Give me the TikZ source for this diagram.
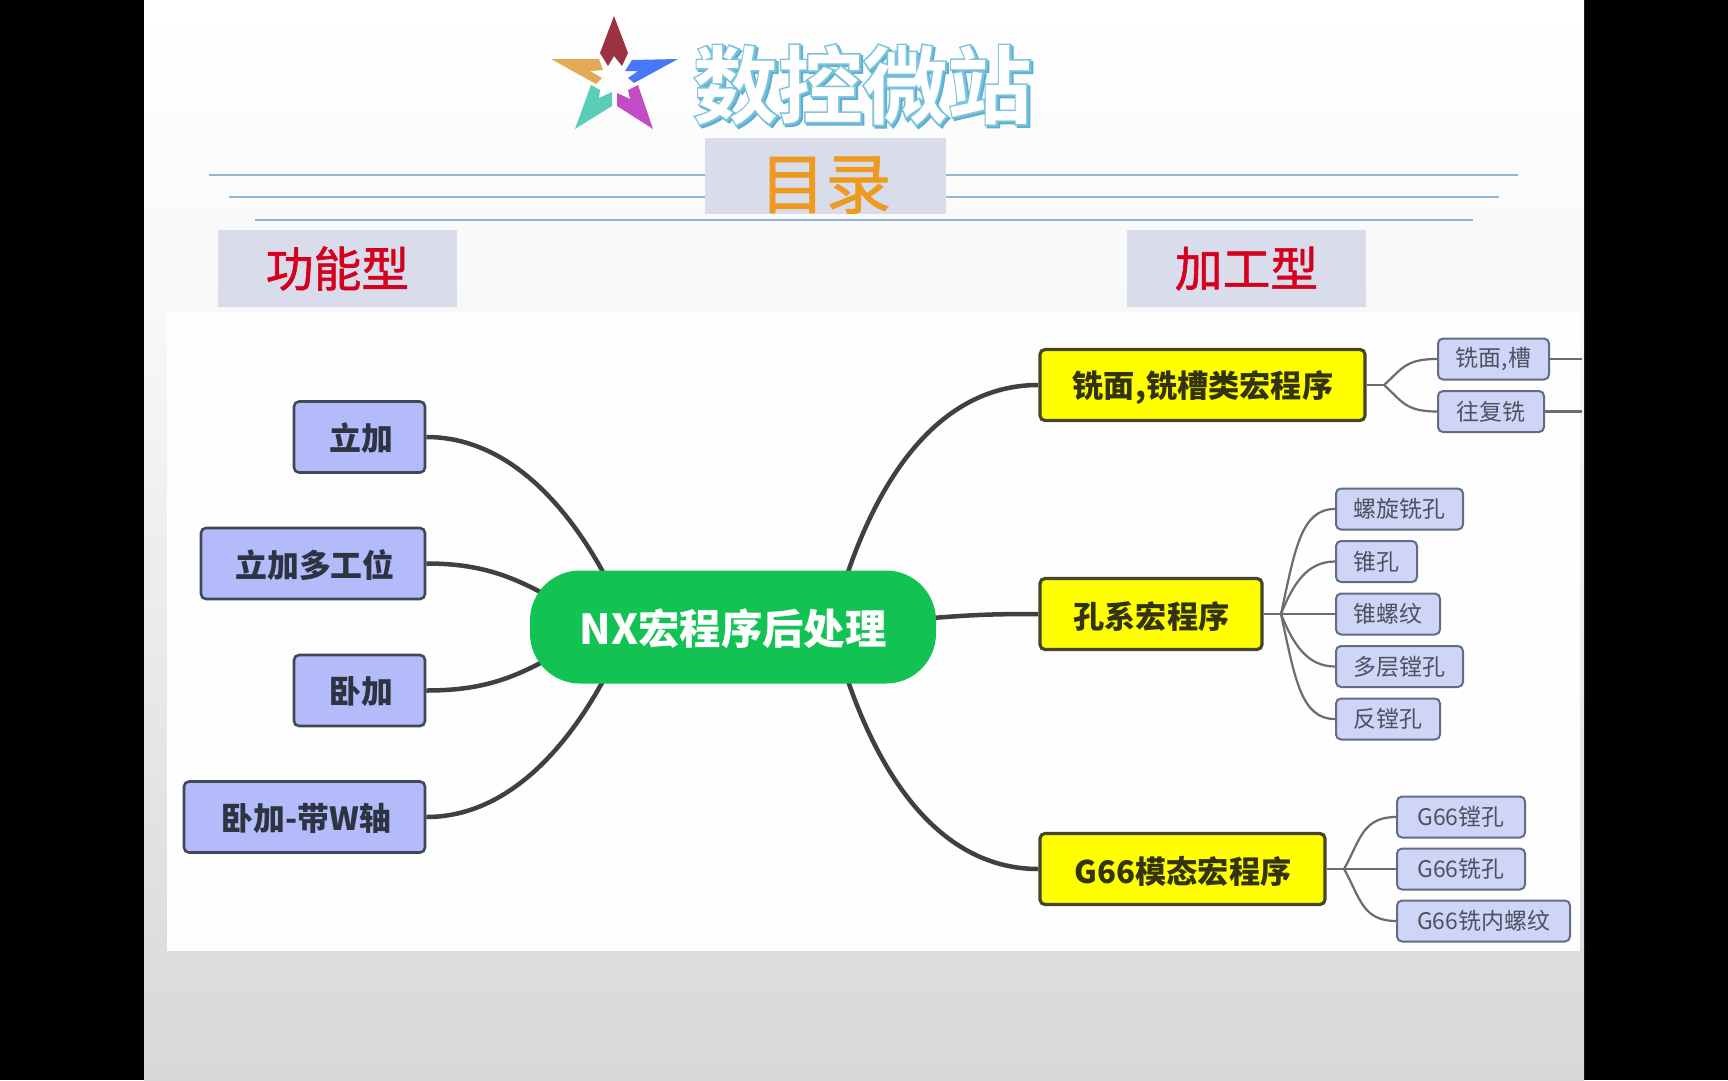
\documentclass[tikz,border=0pt]{standalone}
\usepackage{fontspec}
\setmainfont{Noto Sans CJK SC}
\newfontfamily\titleout{Noto Sans CJK SC}[UprightFont=* Bold,FakeBold=4]
\newfontfamily\titlein{Noto Sans CJK SC}[UprightFont=* Bold]
\newfontfamily\heavyreg{Noto Sans CJK SC}[FakeBold=1.2]
\usetikzlibrary{calc}
\newcommand{\dnshift}[2]{\raisebox{-#1}[\height][\depth]{#2}}
\newcommand{\ltxt}[1]{\dnshift{1.5bp}{\kern4bp #1}}
\newcommand{\ytxt}[1]{\dnshift{2.5bp}{\kern1bp #1}}
\definecolor{bgtop}{HTML}{FFFFFF}
\definecolor{bgmid}{HTML}{F8F8F8}
\definecolor{greybg}{HTML}{DDDDDD}
\definecolor{bgbot}{HTML}{D8D8D8}
\definecolor{panelbg}{HTML}{FEFEFE}
\definecolor{labelbox}{HTML}{D9DCEA}
\definecolor{ruleblue}{HTML}{8FB6D2}
\definecolor{mainline}{HTML}{404040}
\definecolor{subline}{HTML}{6C6C6C}
\definecolor{leftfill}{HTML}{B3BBFA}
\definecolor{leftedge}{HTML}{404858}
\definecolor{lefttext}{HTML}{2D3340}
\definecolor{yellowfill}{HTML}{FFFF00}
\definecolor{yellowedge}{HTML}{45452A}
\definecolor{yellowtext}{HTML}{33330F}
\definecolor{smallfill}{HTML}{CFD5F6}
\definecolor{smalledge}{HTML}{626C82}
\definecolor{smalltext}{HTML}{4C5260}
\definecolor{hubgreen}{HTML}{12C354}
\definecolor{titlered}{HTML}{D4001E}
\definecolor{titleorange}{HTML}{EE9A1E}
\definecolor{logoout}{HTML}{7CC3DC}
\definecolor{logoshadow}{HTML}{5FAFCF}
\tikzset{
  x=1bp,y=-1bp,
  leftbox/.style={draw=leftedge,fill=leftfill,line width=2.6bp,rounded corners=5bp,minimum height=71bp,inner sep=0pt,text=lefttext,font=\fontsize{32}{32}\selectfont\bfseries},
  yellowbox/.style={draw=yellowedge,fill=yellowfill,line width=3.2bp,rounded corners=5bp,minimum height=71bp,inner sep=0pt,text=yellowtext,font=\fontsize{31.3}{31.3}\selectfont\bfseries},
  smallbox/.style={draw=smalledge,fill=smallfill,line width=2bp,rounded corners=5bp,minimum height=41bp,inner sep=0pt,text=smalltext,font=\fontsize{23}{23}\selectfont},
  hub/.style={fill=hubgreen,rounded corners=50bp,minimum width=406bp,minimum height=113bp,inner sep=0pt,text=white,font=\fontsize{41.5}{41.5}\selectfont\bfseries},
  catbox/.style={fill=labelbox,minimum width=239bp,minimum height=77bp,inner sep=0pt,text=titlered,font=\fontsize{48}{48}\selectfont\heavyreg},
  mainlink/.style={draw=mainline,line width=4.5bp},
  sublink/.style={draw=subline,line width=2.2bp},
  rulerline/.style={draw=ruleblue,line width=1.3bp},
}
\begin{document}
\begin{tikzpicture}
\useasboundingbox (0,0) rectangle (1728,1080);
\fill[black] (0,0) rectangle (1728,1080);
\fill[top color=bgtop,bottom color=bgmid] (144,0) rectangle (1584,312);
\fill[top color=bgmid,bottom color=greybg] (144,312) rectangle (1584,951);
\fill[top color=greybg,bottom color=bgbot] (144,951) rectangle (1584,1080);
\fill[panelbg] (167,312) rectangle (1580,951);
% rules
\draw[rulerline] (209,175) -- (1518,175);
\draw[rulerline] (229,197) -- (1499,197);
\draw[rulerline] (255,220) -- (1473,220);
% logo star
\fill[fill={rgb,255:red,155;green,50;blue,65}] (614,16) -- (628,53) -- (622,66) -- (614,56) -- (608,66) -- (600,53) -- cycle;
\fill[fill={rgb,255:red,226;green,170;blue,85}] (551,59) -- (599,59) -- (603,70) -- (590,71) -- (602,78) -- (596,84) -- cycle;
\fill[fill={rgb,255:red,72;green,120;blue,250}] (678,59) -- (632,60) -- (625,71) -- (638,71) -- (628,78) -- (634,83) -- cycle;
\fill[fill={rgb,255:red,90;green,205;blue,185}] (575,129) -- (591,85) -- (600,90) -- (599,98) -- (612,92) -- (612,106) -- cycle;
\fill[fill={rgb,255:red,195;green,75;blue,195}] (653,129) -- (638,85) -- (628,90) -- (630,99) -- (617,93) -- (617,106) -- cycle;
% title
\node[inner sep=0pt,font=\fontsize{85}{85}\selectfont] (logotext) at (863,86)
 {\makebox[0pt][l]{\kern2bp\raisebox{-2bp}{\color{logoshadow}\titleout 数控微站}}\makebox[0pt][l]{\color{logoout}\titleout 数控微站}{\color{white}\titlein 数控微站}};
\node[fill=labelbox,minimum width=241bp,minimum height=76bp,inner sep=0pt,text=titleorange,font=\fontsize{66}{66}\selectfont\heavyreg] (toc) at (825.5,176) {\dnshift{9bp}{目录}};
\node[catbox] (func) at (337.5,268.5) {功能型};
\node[catbox] (proc) at (1246.5,268.5) {加工型};
% anchors on the hub
\coordinate (h1) at (603,572);
\coordinate (h2) at (544,594);
\coordinate (h3) at (544,661);
\coordinate (h4) at (603,681);
\coordinate (h5) at (848,572);
\coordinate (h6) at (932,618);
\coordinate (h7) at (848,681);
% nodes
\node[leftbox,minimum width=131bp] (lj) at (359.5,437) {\ltxt{立加}};
\node[leftbox,minimum width=224bp] (ljd) at (313,563.5) {\ltxt{立加多工位}};
\node[leftbox,minimum width=131bp] (wj) at (359.5,690.5) {\ltxt{卧加}};
\node[leftbox,minimum width=241bp] (wjw) at (304.5,817) {\ltxt{卧加-带W轴}};
\node[yellowbox,minimum width=325bp] (xm) at (1202.5,385) {\ytxt{铣面,铣槽类宏程序}};
\node[yellowbox,minimum width=222bp] (kx) at (1151,614) {\ytxt{孔系宏程序}};
\node[yellowbox,minimum width=285bp] (gm) at (1182.5,869) {\ytxt{G66模态宏程序}};
\node[smallbox,minimum width=111bp] (sa) at (1493.5,359) {铣面,槽};
\node[smallbox,minimum width=106bp] (sb) at (1491,411.5) {往复铣};
\node[smallbox,minimum width=127bp] (ka) at (1399.5,509) {螺旋铣孔};
\node[smallbox,minimum width=81bp] (kb) at (1376.5,561.5) {锥孔};
\node[smallbox,minimum width=104bp] (kc) at (1388,614) {锥螺纹};
\node[smallbox,minimum width=127bp] (kd) at (1399.5,666.5) {多层镗孔};
\node[smallbox,minimum width=104bp] (ke) at (1388,719) {反镗孔};
\node[smallbox,minimum width=128bp] (ga) at (1461,817) {G66镗孔};
\node[smallbox,minimum width=128bp] (gb) at (1461,869) {G66铣孔};
\node[smallbox,minimum width=173bp] (gc) at (1483.5,921) {G66铣内螺纹};
% main connectors
\draw[mainlink] (lj.east) .. controls +(85,0) and +(-33,-60) .. (h1);
\draw[mainlink] (ljd.east) .. controls +(45,0) and +(-40,-22) .. (h2);
\draw[mainlink] (wj.east) .. controls +(45,0) and +(-40,22) .. (h3);
\draw[mainlink] (wjw.east) .. controls +(85,0) and +(-33,60) .. (h4);
\draw[mainlink] (xm.west) .. controls +(-90,0) and +(38,-110) .. (h5);
\draw[mainlink] (kx.west) .. controls +(-50,0) and +(40,-3) .. (h6);
\draw[mainlink] (gm.west) .. controls +(-90,0) and +(38,110) .. (h7);
\node[hub] (nx) at (733,627) {\dnshift{2bp}{NX宏程序后处理}};
% junctions
\coordinate (ja) at (1384,385);
\coordinate (jb) at (1281,614);
\coordinate (jc) at (1344,869);
\coordinate (ea) at (1582,359);
\coordinate (eb) at (1582,411.5);
\draw[sublink] (xm.east) -- (ja);
\draw[sublink] (ja) .. controls +(18,-16) and +(-32,0) .. (sa.west);
\draw[sublink] (ja) .. controls +(18,16) and +(-32,0) .. (sb.west);
\draw[sublink] (sa.east) -- (ea);
\draw[sublink] (sb.east) -- (eb);
\draw[sublink] (kx.east) -- (jb);
\draw[sublink] (jb) .. controls +(14,-65) and +(-34,0) .. (ka.west);
\draw[sublink] (jb) .. controls +(12,-30) and +(-28,0) .. (kb.west);
\draw[sublink] (jb) -- (kc.west);
\draw[sublink] (jb) .. controls +(12,30) and +(-28,0) .. (kd.west);
\draw[sublink] (jb) .. controls +(14,65) and +(-34,0) .. (ke.west);
\draw[sublink] (gm.east) -- (jc);
\draw[sublink] (jc) .. controls +(16,-28) and +(-34,0) .. (ga.west);
\draw[sublink] (jc) -- (gb.west);
\draw[sublink] (jc) .. controls +(16,28) and +(-34,0) .. (gc.west);
\end{tikzpicture}
\end{document}
